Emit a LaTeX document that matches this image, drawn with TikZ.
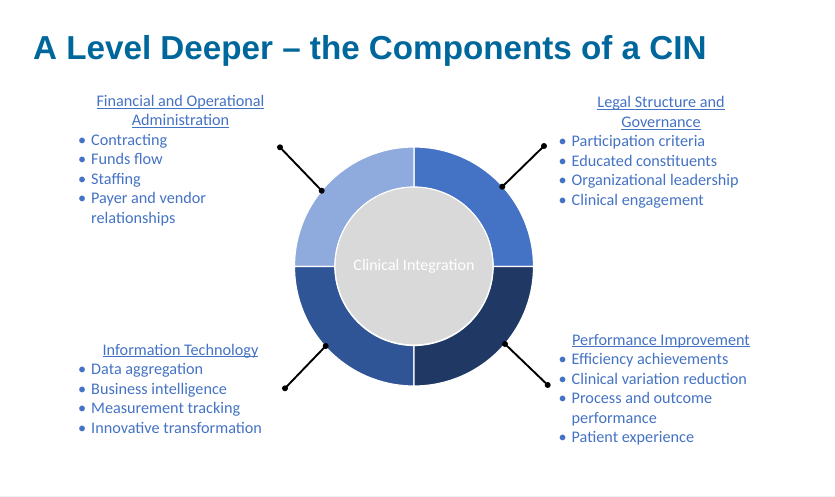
\documentclass[tikz,border=0pt]{standalone}
\usepackage{fontspec}
\setmainfont{Carlito}
\newfontfamily\titlefont{Liberation Sans}
\usetikzlibrary{arrows.meta}

\definecolor{titleblue}{HTML}{00679C}
\definecolor{txtblue}{HTML}{4472C4}
\definecolor{ringTR}{HTML}{4472C4}
\definecolor{ringTL}{HTML}{8FAADC}
\definecolor{ringBL}{HTML}{2F5597}
\definecolor{ringBR}{HTML}{203864}
\definecolor{coregray}{HTML}{D9D9D9}

\tikzset{
	listline/.style={anchor=base west, inner sep=0pt, text=txtblue, font=\fontsize{16.2}{19.5}\selectfont},
	headline/.style={listline, anchor=base},
	lead/.style={line width=1.9pt, black},
}

\begin{document}
\begin{tikzpicture}[x=1pt,y=-1pt]
	\def\hd#1#2#3{\node[headline] (#1) at (107.5,#2*19.5) {\underline{\smash{#3}}};}
	\def\itm#1#2#3{\node[listline] (#1) at (0,#2*19.5) {\makebox[18pt]{\textbullet}#3};}
	\def\cont#1#2#3{\node[listline] (#1) at (18,#2*19.5) {#3};}
	\useasboundingbox (0,0) rectangle (835,497);
	\fill[black!6] (0,495.5) rectangle (835,497);
	% title
	\node[anchor=base west, inner sep=0pt, text=titleblue, font=\titlefont\bfseries\fontsize{33.2}{40}\selectfont] (title) at (33,60) {A Level Deeper \textendash{} the Components of a CIN};
	% ring
	\begin{scope}[shift={(414,266.5)}, y=1pt]
		\foreach \a/\col in {0/ringTR,90/ringTL,180/ringBL,270/ringBR}
			\filldraw[fill=\col, draw=white, line width=1.2pt] (\a:79) arc[start angle=\a, delta angle=90, radius=79] -- ({\a+90}:119.5) arc[start angle=\a+90, delta angle=-90, radius=119.5] -- cycle;
		\node[circle, fill=coregray, draw=white, line width=1.2pt, minimum size=158pt, inner sep=0pt, text=white, font=\fontsize{16}{19.5}\selectfont] (core) at (0,0.5) {Clinical Integration};
	\end{scope}
	% Financial and Operational Administration
	\begin{scope}[shift={(73,106.5)}]
		\hd{finH1}{0}{Financial and Operational}
		\hd{finH2}{1}{Administration}
		\itm{fin1}{2}{Contracting}
		\itm{fin2}{3}{Funds flow}
		\itm{fin3}{4}{Staffing}
		\itm{fin4}{5}{Payer and vendor}
		\cont{fin4b}{6}{relationships}
	\end{scope}
	% Legal Structure and Governance
	\begin{scope}[shift={(553.5,108)}]
		\hd{legH1}{0}{Legal Structure and}
		\hd{legH2}{1}{Governance}
		\itm{leg1}{2}{Participation criteria}
		\itm{leg2}{3}{Educated constituents}
		\itm{leg3}{4}{Organizational leadership}
		\itm{leg4}{5}{Clinical engagement}
	\end{scope}
	% Information Technology
	\begin{scope}[shift={(73,355)}]
		\hd{itH}{0}{Information Technology}
		\itm{it1}{1}{Data aggregation}
		\itm{it2}{2}{Business intelligence}
		\itm{it3}{3}{Measurement tracking}
		\itm{it4}{4}{Innovative transformation}
	\end{scope}
	% Performance Improvement
	\begin{scope}[shift={(553.5,345)}]
		\hd{perfH}{0}{Performance Improvement}
		\itm{perf1}{1}{Efficiency achievements}
		\itm{perf2}{2}{Clinical variation reduction}
		\itm{perf3}{3}{Process and outcome}
		\cont{perf3b}{4}{performance}
		\itm{perf4}{5}{Patient experience}
	\end{scope}
	% leads
	\coordinate (finIn) at (321.7,190.7);  \coordinate (finOut) at (280,147.3);
	\coordinate (legIn) at (502.3,186.7);  \coordinate (legOut) at (544,146);
	\coordinate (itIn) at (325.7,346);     \coordinate (itOut) at (285,388.3);
	\coordinate (perfIn) at (505,344);     \coordinate (perfOut) at (547.7,385);
	\foreach \s in {fin,leg,it,perf} {
		\draw[lead] (\s In) -- (\s Out);
		\fill (\s In) circle[radius=3pt] (\s Out) circle[radius=3pt];
	}
\end{tikzpicture}
\end{document}
